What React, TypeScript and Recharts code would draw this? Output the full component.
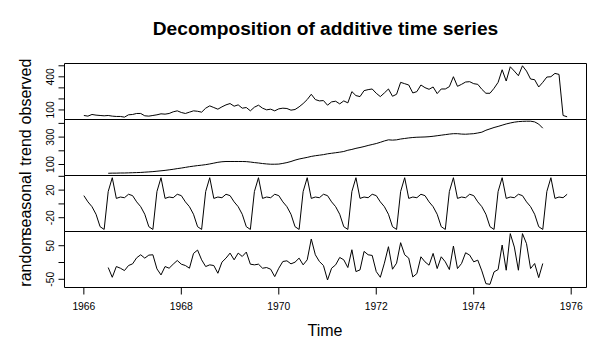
import React from 'react'
import { LineChart, Line, XAxis, YAxis, ReferenceArea } from 'recharts'

/* ── Data (monthly, Jan 1966 – Dec 1975) ── */

const START_YEAR = 1966
const FREQ = 12
// trend / random are undefined for the first and last 6 months (moving average)
const MA_OFFSET = 6

const observed = [
  50, 44, 59, 53, 50, 47, 50, 44, 41, 41, 35, 56,
  59, 68, 68, 47, 44, 50, 56, 65, 62, 68, 83, 92,
  77, 68, 80, 92, 88, 80, 116, 137, 122, 107, 128, 146,
  158, 134, 146, 116, 122, 92, 125, 143, 116, 101, 107, 92,
  110, 116, 113, 98, 104, 128, 158, 194, 242, 194, 182, 185,
  143, 173, 179, 155, 182, 164, 266, 230, 221, 275, 284, 290,
  251, 221, 254, 290, 224, 242, 350, 338, 326, 254, 266, 326,
  302, 287, 308, 248, 290, 290, 311, 401, 314, 332, 353, 356,
  338, 332, 287, 251, 251, 296, 350, 464, 362, 491, 452, 410,
  500, 452, 380, 374, 308, 350, 398, 401, 431, 422, 50, 38,
]

const trend = [
  36, 37, 37, 38, 38, 39,
  40, 41, 42, 44, 46, 48, 51, 54, 57, 61, 65, 70,
  74, 79, 84, 88, 92, 95, 99, 104, 110, 116, 120, 122,
  122, 122, 122, 122, 121, 118, 114, 111, 107, 104, 102, 102,
  103, 108, 114, 122, 132, 140, 146, 152, 159, 164, 168, 172,
  178, 182, 186, 190, 195, 204, 210, 218, 224, 231, 239, 246,
  253, 262, 272, 280, 278, 280, 286, 290, 294, 297, 299, 300,
  301, 303, 306, 310, 314, 318, 322, 325, 325, 322, 321, 323,
  325, 330, 336, 350, 360, 370, 378, 387, 396, 403, 409, 413,
  415, 416, 416, 411, 395, 365,
]

// one value per calendar month, repeated every year
const seasonalByMonth = [12, 3, -4, -15, -33, -37, 18, 38, 8, 10, 9, 14]

const random = [
  -15, -44, -12, -17, -24, -9,
  -4, 14, 23, 13, 22, 23, -19, -37, -12, -17, -5, 6,
  -5, -9, -17, 27, 37, 8, -12, -7, -9, -32, 1, 13,
  28, 8, 28, 18, 31, -5, -7, -5, -17, -15, -20, -42,
  -17, 3, 5, -4, 1, 13, -7, 8, 70, 23, 3, -9,
  -52, -17, -7, 15, 8, -15, 38, -27, -22, 33, 23, 21,
  -27, -44, -2, 47, -20, -2, 59, 23, 13, -43, -33, 17,
  2, -8, 27, -18, 17, 2, -21, 49, -18, -3, 29, 22,
  2, 7, -25, -63, -65, -28, -21, 52, -23, 86, 46, -23,
  86, 56, -18, -3, -45, -3,
]

const yearTicks = [1966, 1968, 1970, 1972, 1974, 1976]

const rows = observed.map((v, i) => {
  const j = i - MA_OFFSET
  return {
    t: START_YEAR + i / FREQ,
    observed: v,
    trend: j >= 0 && j < trend.length ? trend[j] : null,
    seasonal: seasonalByMonth[i % FREQ],
    random: j >= 0 && j < random.length ? random[j] : null,
  }
})

/* ── Layout ── */

const W = 613
const H = 363
const FONT = '"Liberation Sans", Arial, Helvetica, sans-serif'
const PLOT_LEFT = 64.5
const PLOT_RIGHT = 586.5
const PANEL_TOP = 63
const PANEL_H = 56
const X_DOMAIN: [number, number] = [1965.603, 1976.314]

const panels = [
  { key: 'observed', domain: [13.5, 520.7], ticks: [100, 200, 300, 400, 500], shown: [100, 400] },
  { key: 'trend', domain: [19.7, 428.5], ticks: [100, 200, 300, 400], shown: [100, 300] },
  { key: 'seasonal', domain: [-40, 41.2], ticks: [-20, 0, 20, 40], shown: [-20, 20] },
  { key: 'random', domain: [-74.4, 92.3], ticks: [-50, 0, 50], shown: [-50, 50] },
]

function YTick({ y, payload, shown }: any) {
  return (
    <g>
      <line x1={PLOT_LEFT - 6} x2={PLOT_LEFT} y1={y} y2={y} stroke="#000" strokeWidth={1} />
      {shown.includes(payload.value) && (
        <text
          x={54}
          y={y}
          transform={`rotate(-90 54 ${y})`}
          textAnchor="middle"
          fontSize={10.3}
          fontFamily={FONT}
          fill="#000"
        >
          {payload.value}
        </text>
      )}
    </g>
  )
}

function XTick({ x, payload }: any) {
  const base = 0.5 + PANEL_H
  return (
    <g>
      <line x1={x} x2={x} y1={base} y2={base + 7} stroke="#000" strokeWidth={1} />
      <text x={x} y={base + 22} textAnchor="middle" fontSize={10.3} fontFamily={FONT} fill="#000">
        {payload.value}
      </text>
    </g>
  )
}

function Panel({ idx }: { idx: number }) {
  const p = panels[idx]
  const last = idx === panels.length - 1
  const axisH = last ? 40 : 0
  return (
    <div style={{ position: 'absolute', left: 0, top: PANEL_TOP + idx * PANEL_H }}>
      <LineChart
        width={W}
        height={0.5 + PANEL_H + axisH + 0.5}
        data={rows}
        margin={{ top: 0.5, right: W - PLOT_RIGHT, bottom: 0.5, left: 0.5 }}
      >
        <XAxis
          type="number"
          dataKey="t"
          domain={X_DOMAIN}
          allowDataOverflow
          hide={!last}
          height={axisH}
          ticks={yearTicks}
          interval={0}
          axisLine={false}
          tickLine={false}
          tick={(props: any) => <XTick {...props} />}
        />
        <YAxis
          type="number"
          domain={p.domain}
          allowDataOverflow
          ticks={p.ticks}
          interval={0}
          width={PLOT_LEFT - 0.5}
          axisLine={false}
          tickLine={false}
          tick={(props: any) => <YTick {...props} shown={p.shown} />}
        />
        <ReferenceArea
          x1={X_DOMAIN[0]}
          x2={X_DOMAIN[1]}
          y1={p.domain[0]}
          y2={p.domain[1]}
          fill="#fff"
          fillOpacity={0}
          stroke="#000"
          strokeWidth={1}
          ifOverflow="visible"
        />
        <Line
          type="linear"
          dataKey={p.key}
          stroke="#000"
          strokeWidth={1}
          dot={false}
          activeDot={false}
          isAnimationActive={false}
        />
      </LineChart>
    </div>
  )
}

export default function App() {
  const labelX = 31
  return (
    <div style={{ position: 'absolute', left: 0, top: 0, width: W, height: H, background: '#fff' }}>
      {panels.map((_, i) => (
        <Panel key={i} idx={i} />
      ))}
      <svg
        width={W}
        height={H}
        style={{ position: 'absolute', left: 0, top: 0, pointerEvents: 'none' }}
      >
        <text x={325.5} y={35} textAnchor="middle" fontSize={19.2} fontWeight="bold" fontFamily={FONT}>
          Decomposition of additive time series
        </text>
        <text x={325} y={336} textAnchor="middle" fontSize={16} fontFamily={FONT}>
          Time
        </text>
        {panels.map((p, i) => {
          const cy = PANEL_TOP + 0.5 + i * PANEL_H + PANEL_H / 2
          return (
            <text
              key={p.key}
              x={labelX}
              y={cy}
              transform={`rotate(-90 ${labelX} ${cy})`}
              textAnchor="middle"
              fontSize={16}
              fontFamily={FONT}
            >
              {p.key}
            </text>
          )
        })}
      </svg>
    </div>
  )
}
